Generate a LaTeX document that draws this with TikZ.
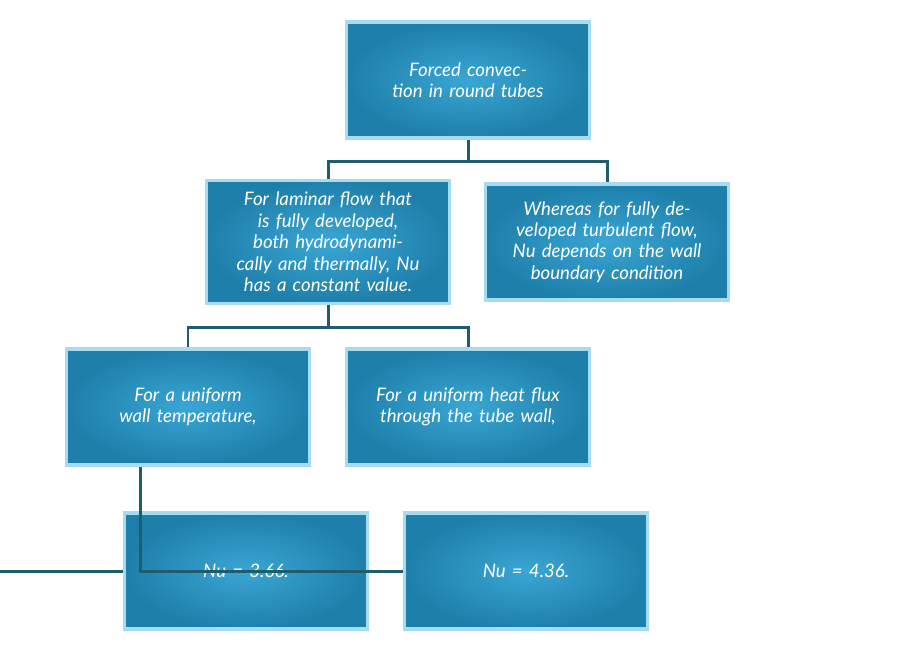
\documentclass[tikz,border=0pt]{standalone}
\usepackage{fontspec}
\setmainfont{Lato}
\definecolor{boxin}{HTML}{3AA6D4}
\definecolor{boxout}{HTML}{1E7FAA}
\definecolor{boxrim}{HTML}{A6DCEF}
\definecolor{linkc}{HTML}{1F5C6C}
\begin{document}
\begin{tikzpicture}[x=0.01cm,y=-0.01cm,
  box/.style={rectangle, draw=boxrim, line width=0.9pt, inner color=boxin, outer color=boxout,
    minimum width=2.32cm, minimum height=1.16cm, text width=2.2cm, align=center,
    text=white, font=\fontsize{5.3}{6.1}\selectfont\itshape},
  link/.style={draw=linkc, line width=0.85pt}]
  \useasboundingbox (0,0) rectangle (907,645);

  \node[box] (top) at (468,80) {Forced convection in round tubes};
  \node[box] (lam) at (328,242) {For laminar flow that is fully developed, both hydrodynamically and thermally, Nu has a constant value.};
  \node[box] (tur) at (607,242) {Whereas for fully developed turbulent flow, Nu depends on the wall boundary condition};
  \node[box] (uwt) at (188,407) {For a uniform wall temperature,};
  \node[box] (uhf) at (468,407) {For a uniform heat flux through the tube wall,};
  \node[box] (nua) at (246,571) {Nu = 3.66.};
  \node[box] (nub) at (526,571) {Nu = 4.36.};

  % connectors
  \draw[link] (top.south) -- ++(0,22) -| (lam.north);
  \draw[link] (top.south) -- ++(0,22) -| (tur.north);
  \draw[link] (lam.south) -- ++(0,22) -| (uwt.north);
  \draw[link] (lam.south) -- ++(0,22) -| (uhf.north);
  \draw[link] ([xshift=-92]uwt.south) |- (nua.west);
  \draw[link] ([xshift=-93]uhf.south) |- (nub.west);
\end{tikzpicture}
\end{document}
